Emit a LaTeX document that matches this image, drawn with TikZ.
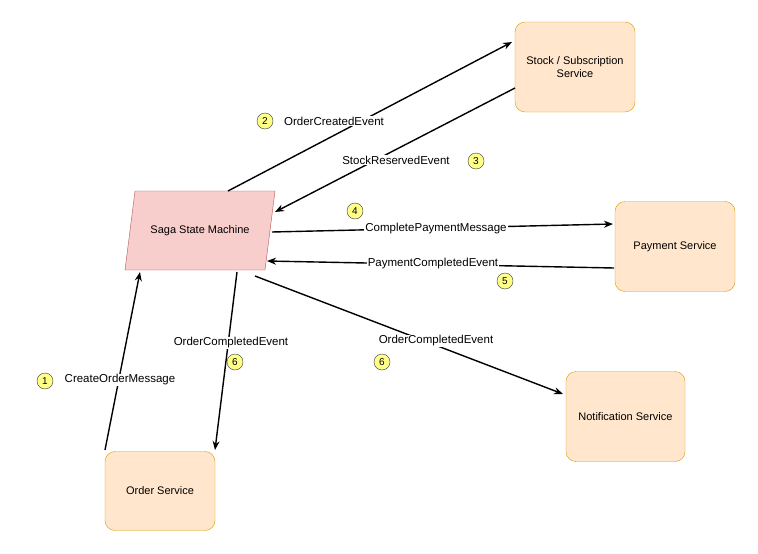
\documentclass[tikz,border=0pt]{standalone}
\usepackage{fontspec}
\setmainfont{Liberation Sans}
\usetikzlibrary{arrows.meta}
\definecolor{ofill}{HTML}{FFE6CC}\definecolor{ostroke}{HTML}{D79B00}
\definecolor{pfill}{HTML}{F8CECC}\definecolor{pstroke}{HTML}{B85450}
\definecolor{yfill}{HTML}{FFFF88}\definecolor{ystroke}{HTML}{36393D}
\begin{document}
\begin{tikzpicture}[x=1pt,y=-1pt,
  svc/.style={draw=ostroke,fill=ofill,rounded corners=10pt,minimum width=120pt,minimum height=90pt,align=center,font=\fontsize{11}{13}\selectfont},
  arr/.style={-{Stealth[length=9pt,width=7pt]},line width=1.4pt},
  lbl/.style={fill=white,inner sep=1pt,font=\fontsize{11.5}{13}\selectfont},
  num/.style={circle,draw=ystroke,fill=yfill,minimum size=16pt,inner sep=0pt,font=\fontsize{10}{12}\selectfont}]
\useasboundingbox (0,0) rectangle (758,554);
\node[svc] (stock) at (575,67) {Stock / Subscription\\Service};
\node[svc] (pay) at (675,246.5) {Payment Service};
\node[svc,minimum width=119pt] (notif) at (625.5,416.5) {Notification Service};
\node[svc,minimum width=110pt,minimum height=79pt] (order) at (160,491) {Order Service};
\draw[draw=pstroke,fill=pfill] (135,191) -- (275,191) -- (265,270) -- (125,270) -- cycle;
\coordinate (saga) at (200,230.5);
\node[font=\fontsize{11}{13}\selectfont] (sagat) at (200,230.5) {Saga State Machine};
\coordinate (s1) at (140,272); \coordinate (o1) at (105,450);
\coordinate (s2) at (228,191); \coordinate (k2) at (512,42);
\coordinate (k3) at (515,88); \coordinate (s3) at (275,212);
\coordinate (s4) at (272,232); \coordinate (p4) at (613,224);
\coordinate (p5) at (614,268); \coordinate (s5) at (267,261);
\coordinate (s6) at (237,272); \coordinate (o6) at (215,450);
\coordinate (s7) at (255,276); \coordinate (n7) at (563,394);
\draw[arr] (o1) -- (s1);
\draw[arr] (s2) -- (k2);
\draw[arr] (k3) -- (s3);
\draw[arr] (s4) -- (p4);
\draw[arr] (p5) -- (s5);
\draw[arr] (s6) -- (o6);
\draw[arr] (s7) -- (n7);
\node[lbl] (l1) at (120,380) {CreateOrderMessage};
\node[num] (c1) at (45,381) {1};
\node[lbl] (l2) at (334,121) {OrderCreatedEvent};
\node[num] (c2) at (265,121) {2};
\node[lbl] (l3) at (396,160) {StockReservedEvent};
\node[num] (c3) at (476,161) {3};
\node[lbl] (l4) at (436,229) {CompletePaymentMessage};
\node[num] (c4) at (355,211) {4};
\node[lbl] (l5) at (433,264) {PaymentCompletedEvent};
\node[num] (c5) at (505,281) {5};
\node[lbl] (l6) at (231,343) {OrderCompletedEvent};
\node[num] (c6) at (235,362) {6};
\node[lbl] (l7) at (436,341) {OrderCompletedEvent};
\node[num] (c7) at (382,362) {6};
\end{tikzpicture}
\end{document}
